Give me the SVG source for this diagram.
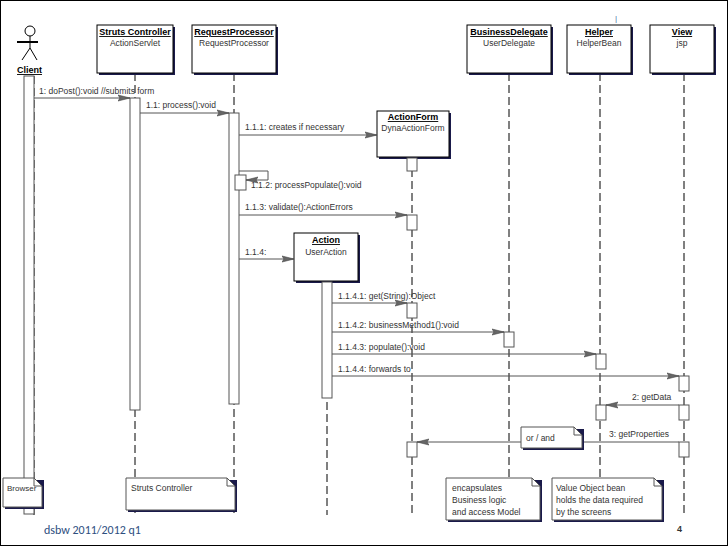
<svg xmlns="http://www.w3.org/2000/svg" width="728" height="546" viewBox="0 0 728 546">
<style>
text{font-family:"Liberation Sans",Arial,sans-serif;font-size:8.5px;fill:#333}
.b{fill:#fff;stroke:#000;stroke-width:1}
.sh{fill:#1a1a4a}
.t{font-weight:bold;text-decoration:underline;fill:#000;font-size:9px}
.ll{stroke:#000;stroke-dasharray:8,4;fill:none}
.act{fill:#fff;stroke:#555;stroke-width:1}
.m{stroke:#555;stroke-width:1;fill:none;marker-end:url(#ah)}
.note{fill:#fff;stroke:#555}
</style>
<defs>
<marker id="ah" viewBox="0 0 12 8" refX="12" refY="4" markerWidth="12" markerHeight="8" markerUnits="userSpaceOnUse" orient="auto">
<path d="M0,1 L12,4 L0,7 L2,4 Z" fill="#666" stroke="#444" stroke-width="0.6"/>
</marker>
</defs>
<rect x="0.5" y="0.5" width="727" height="545" fill="#fff" stroke="#000"/>
<text x="615" y="21" style="fill:#4a6fa5;font-size:8px">|</text>
<g id="lifelines">
<line class="ll" x1="34" y1="76" x2="34" y2="515"/>
<line class="ll" x1="135" y1="73" x2="135" y2="515"/>
<line class="ll" x1="234" y1="73" x2="234" y2="515"/>
<line class="ll" x1="412" y1="157" x2="412" y2="515"/>
<line class="ll" x1="327" y1="282" x2="327" y2="515"/>
<line class="ll" x1="509" y1="73" x2="509" y2="478"/>
<line class="ll" x1="600" y1="73" x2="600" y2="478"/>
<line class="ll" x1="684" y1="73" x2="684" y2="515"/>
</g>
<g id="client">
<circle cx="30" cy="31" r="5" fill="#fff" stroke="#000"/>
<line x1="30" y1="36" x2="30" y2="48" stroke="#000"/>
<line x1="17" y1="42" x2="38" y2="42" stroke="#000" stroke-width="2"/>
<line x1="30" y1="48" x2="22" y2="60" stroke="#000"/>
<line x1="30" y1="48" x2="37" y2="60" stroke="#000"/>
<text x="17" y="73" class="t">Client</text>
</g>
<g id="actionservlet">
<rect x="99" y="27" width="76" height="48" class="sh"/>
<rect x="97" y="25" width="76" height="48" class="b"/>
<text x="135" y="35" class="t" text-anchor="middle">Struts Controller</text>
<text x="135" y="46" text-anchor="middle">ActionServlet</text>
</g>
<g id="requestprocessor">
<rect x="194" y="27" width="84" height="48" class="sh"/>
<rect x="192" y="25" width="84" height="48" class="b"/>
<text x="234" y="35" class="t" text-anchor="middle">RequestProcessor</text>
<text x="234" y="46" text-anchor="middle">RequestProcessor</text>
</g>
<g id="actionform">
<rect x="379" y="113" width="72" height="46" class="sh"/>
<rect x="377" y="111" width="72" height="46" class="b"/>
<text x="413" y="120" class="t" text-anchor="middle">ActionForm</text>
<text x="413" y="131" text-anchor="middle">DynaActionForm</text>
</g>
<g id="useraction">
<rect x="296" y="235" width="64" height="48" class="sh"/>
<rect x="294" y="233" width="64" height="48" class="b"/>
<text x="326" y="243" class="t" text-anchor="middle">Action</text>
<text x="326" y="255" text-anchor="middle">UserAction</text>
</g>
<g id="businessdelegate">
<rect x="469" y="27" width="84" height="48" class="sh"/>
<rect x="467" y="25" width="84" height="48" class="b"/>
<text x="509" y="35" class="t" text-anchor="middle">BusinessDelegate</text>
<text x="509" y="46" text-anchor="middle">UserDelegate</text>
</g>
<g id="helper">
<rect x="569" y="27" width="64" height="48" class="sh"/>
<rect x="567" y="25" width="64" height="48" class="b"/>
<text x="599" y="35" class="t" text-anchor="middle">Helper</text>
<text x="599" y="46" text-anchor="middle">HelperBean</text>
</g>
<g id="view">
<rect x="652" y="27" width="64" height="48" class="sh"/>
<rect x="650" y="25" width="64" height="48" class="b"/>
<text x="682" y="35" class="t" text-anchor="middle">View</text>
<text x="682" y="46" text-anchor="middle">jsp</text>
</g>
<g id="activations">
<rect class="act" x="24" y="76" width="10" height="438"/>
<rect class="act" x="130" y="98" width="10" height="312"/>
<rect class="act" x="229" y="113" width="10" height="291"/>
<rect class="act" x="235" y="175" width="11" height="15"/>
<rect class="act" x="407" y="158" width="10" height="13"/>
<rect class="act" x="407" y="215" width="10" height="15"/>
<rect class="act" x="407" y="303" width="10" height="15"/>
<rect class="act" x="407" y="442" width="10" height="15"/>
<rect class="act" x="322" y="282" width="10" height="116"/>
<rect class="act" x="504" y="332" width="10" height="15"/>
<rect class="act" x="596" y="354" width="10" height="15"/>
<rect class="act" x="596" y="405" width="10" height="15"/>
<rect class="act" x="679" y="376" width="10" height="15"/>
<rect class="act" x="679" y="405" width="10" height="15"/>
<rect class="act" x="679" y="442" width="10" height="15"/>
</g>
<g id="connectors">
<line class="m" x1="34" y1="98" x2="130" y2="98"/>
<line class="m" x1="140" y1="113" x2="229" y2="113"/>
<line class="m" x1="239" y1="135" x2="377" y2="135"/>
<polyline class="m" points="239,171 268,171 268,180 246,180"/>
<line class="m" x1="239" y1="215" x2="407" y2="215"/>
<line class="m" x1="239" y1="259" x2="294" y2="259"/>
<line class="m" x1="332" y1="303" x2="407" y2="303"/>
<line class="m" x1="332" y1="332" x2="504" y2="332"/>
<line class="m" x1="332" y1="354" x2="596" y2="354"/>
<line class="m" x1="332" y1="376" x2="679" y2="376"/>
<line class="m" x1="679" y1="405" x2="606" y2="405"/>
<line class="m" x1="679" y1="442" x2="417" y2="442"/>
</g>
<g id="labels">
<text x="39" y="94">1: doPost():void //submits form</text>
<text x="146" y="108">1.1: process():void</text>
<text x="245" y="130">1.1.1: creates if necessary</text>
<text x="251" y="188">1.1.2: processPopulate():void</text>
<text x="245" y="210">1.1.3: validate():ActionErrors</text>
<text x="245" y="255">1.1.4:</text>
<text x="338" y="299">1.1.4.1: get(String):Object</text>
<text x="338" y="328">1.1.4.2: businessMethod1():void</text>
<text x="338" y="350">1.1.4.3: populate():void</text>
<text x="338" y="372">1.1.4.4: forwards to</text>
<text x="632" y="400">2: getData</text>
<text x="609" y="437">3: getProperties</text>
</g>
<g id="note-orand">
<path d="M523,429 H584 V450 H523 Z" class="sh"/>
<path d="M521,427 H574 L582,435 V448 H521 Z" class="note"/>
<path d="M574,427 V435 H582" fill="none" stroke="#555"/>
<text x="526" y="441">or / and</text>
</g>
<g id="note-browser">
<path d="M5,480 H44 V509 H5 Z" class="sh"/>
<path d="M3,478 H34 L42,486 V507 H3 Z" class="note"/>
<path d="M34,478 V486 H42" fill="none" stroke="#555"/>
<text x="7" y="491" style="font-size:8px">Browser</text>
</g>
<g id="note-struts">
<path d="M128,480 H237 V512 H128 Z" class="sh"/>
<path d="M126,478 H227 L235,486 V510 H126 Z" class="note"/>
<path d="M227,478 V486 H235" fill="none" stroke="#555"/>
<text x="131" y="491">Struts Controller</text>
</g>
<g id="note-encapsulates">
<path d="M448,480 H542 V522 H448 Z" class="sh"/>
<path d="M446,478 H532 L540,486 V520 H446 Z" class="note"/>
<path d="M532,478 V486 H540" fill="none" stroke="#555"/>
<text x="452" y="491">encapsulates</text>
<text x="452" y="503">Business logic</text>
<text x="452" y="515">and access Model</text>
</g>
<g id="note-valueobject">
<path d="M554,480 H664 V522 H554 Z" class="sh"/>
<path d="M552,478 H654 L662,486 V520 H552 Z" class="note"/>
<path d="M654,478 V486 H662" fill="none" stroke="#555"/>
<text x="556" y="491">Value Object bean</text>
<text x="556" y="503">holds the data required</text>
<text x="556" y="515">by the screens</text>
</g>
<text x="44" y="534" style="font-family:Calibri,Carlito,'Liberation Sans',sans-serif;font-size:12px;fill:#2e4f7f">dsbw  2011/2012 q1</text>
<text x="677" y="532" style="font-size:9px;font-weight:bold;fill:#333">4</text>
</svg>
